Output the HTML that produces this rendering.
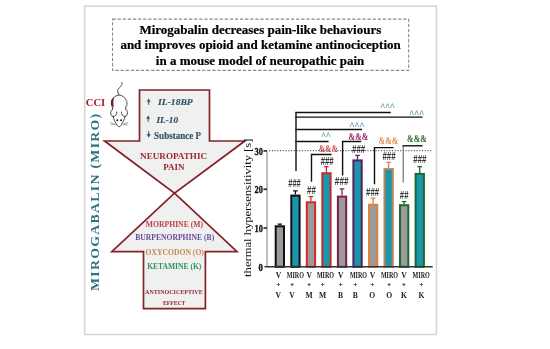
<!DOCTYPE html>
<html><head><meta charset="utf-8"><style>
html,body{margin:0;padding:0;background:#fff;width:550px;height:349px;overflow:hidden}
svg{display:block}
text{font-family:"Liberation Serif",serif}
</style></head><body>
<svg width="550" height="349" viewBox="0 0 550 349">
<!-- outer frame -->
<rect x="84.7" y="6.1" width="351.7" height="328.4" fill="none" stroke="#d6d6d6" stroke-width="1.6"/>
<!-- title box -->
<rect x="112.5" y="19.1" width="296.2" height="51.3" fill="none" stroke="#8a8a8a" stroke-width="1.1" stroke-dasharray="3.3 1.8"/>
<g font-weight="bold" font-size="13" fill="#000" stroke="#000" stroke-width="0.2" text-anchor="middle">
<text x="260.3" y="34.1">Mirogabalin decreases pain-like behaviours</text>
<text x="260.6" y="48.9">and improves opioid and ketamine antinociception</text>
<text x="260.1" y="64.8">in a mouse model of neuropathic pain</text>
</g>

<!-- vertical MIROGABALIN -->
<text transform="translate(99.2,291) rotate(-90)" font-size="12" font-weight="bold" fill="#2d7482" letter-spacing="1.1" textLength="178.5" lengthAdjust="spacingAndGlyphs">MIROGABALIN (MIRO)</text>

<!-- CCI -->
<text x="85.8" y="106.4" font-size="11" font-weight="bold" fill="#a41c28" textLength="19.4" lengthAdjust="spacingAndGlyphs">CCI</text>

<!-- mouse -->
<g fill="none" stroke="#2a2a2a" stroke-width="0.85" stroke-linecap="round" stroke-linejoin="round">
<path d="M121.9,82.4 C123.4,85.2 118.2,87.8 117.7,90.6 C117.4,92.6 118.8,93.6 119.1,94.8"/>
<path d="M112.6,109 C112,105.8 111.3,102.8 111.9,100.6 C112.9,97.4 116.4,95 119.1,95 C121.8,95 125.3,97.4 126.3,100.6 C126.9,102.8 126.2,105.8 125.6,109"/>
<path d="M112.6,109.2 C109.9,110 110.1,115.9 113,116.4 C115.4,116.8 117.1,114.5 116.7,112"/>
<path d="M125.6,109.2 C128.3,110 128.1,115.9 125.2,116.4 C122.8,116.8 121.1,114.5 121.5,112"/>
<path d="M113,116.4 C113.8,119.6 115.9,123.4 117.5,125.7 C118.4,127.2 119.9,127.2 120.8,125.7 C122.4,123.4 124.4,119.6 125.2,116.4"/>
<path d="M110.4,122.4 L115.6,124.3 M110.8,125 L115.4,124.6 M111.6,123.4 L114.8,124.8 M128.2,122.4 L123,124.3 M127.8,125 L123.2,124.6 M127,123.4 L123.8,124.8" stroke="#9a9a9a" stroke-width="0.7"/>
<path d="M126.4,100 C127.6,102.5 127.4,105 126.4,107" stroke="#b0b0b0" stroke-width="1.4"/>
</g>
<circle cx="117.4" cy="120.3" r="0.95" fill="#111"/>
<circle cx="121.1" cy="120.3" r="0.95" fill="#111"/>
<path d="M113.2,98.4 C110.8,100.5 110.6,104.4 113,106.4 C112.6,103.6 112.8,100.6 113.2,98.4 Z" fill="#7a1a22" stroke="#7a1a22" stroke-width="1.1"/>
<!-- down arrow -->
<path d="M139.5,90 L209.5,90 L209.5,141 L244.8,141 L174.5,193.1 L104.6,141 L139.5,141 Z" fill="#f0f0f0" stroke="#832228" stroke-width="1.7" stroke-linejoin="miter"/>
<!-- up arrow -->
<path d="M174.5,193.1 L237,251.6 L205.4,251.6 L205.4,308.6 L143.5,308.6 L143.5,251.6 L111.8,251.6 Z" fill="#f0f0f0" stroke="#832228" stroke-width="1.7" stroke-linejoin="miter"/>

<!-- arrow texts -->
<g fill="#2e5262" stroke="#2e5262" stroke-width="0.15">
<path d="M148.7,98.6 L146.9,101.8 L150.5,101.8 Z M148.3,101.5 h0.8 v3.2 h-0.8 Z"/>
<path d="M148.2,115.6 L146.4,118.8 L150,118.8 Z M147.8,118.5 h0.8 v3.2 h-0.8 Z"/>
<path d="M148.7,137.6 L146.8,134.2 L150.6,134.2 Z M148.3,131.2 h0.8 v3.4 h-0.8 Z"/>
<text x="158.1" y="105" font-size="9" font-weight="bold" font-style="italic" textLength="34.6" lengthAdjust="spacingAndGlyphs">IL-18BP</text>
<text x="156.5" y="122.5" font-size="9" font-weight="bold" font-style="italic" textLength="21.6" lengthAdjust="spacingAndGlyphs">IL-10</text>
<text x="154.1" y="138.5" font-size="9.5" font-weight="bold" textLength="47" lengthAdjust="spacingAndGlyphs">Substance P</text>
</g>
<g font-weight="bold" fill="#962a32">
<text x="140.1" y="159.1" font-size="9.1" textLength="66.9" lengthAdjust="spacingAndGlyphs">NEUROPATHIC</text>
<text x="163.2" y="169.9" font-size="9.1" textLength="21.3" lengthAdjust="spacingAndGlyphs">PAIN</text>
</g>
<g font-weight="bold" font-size="7.6">
<text x="145.8" y="226.7" fill="#bb3e48" textLength="57.2" lengthAdjust="spacingAndGlyphs">MORPHINE (M)</text>
<text x="135.2" y="240.4" fill="#684c9e" textLength="79" lengthAdjust="spacingAndGlyphs">BURPENORPHINE (B)</text>
<text x="145.5" y="254.5" fill="#c8884a" textLength="58.4" lengthAdjust="spacingAndGlyphs">OXYCODON (O)</text>
<text x="147.2" y="268.6" fill="#2a9459" textLength="54.1" lengthAdjust="spacingAndGlyphs">KETAMINE (K)</text>
</g>
<g font-weight="bold" font-size="6.6" fill="#8c2836">
<text x="145.1" y="293.8" textLength="57.6" lengthAdjust="spacingAndGlyphs">ANTINOCICEPTIVE</text>
<text x="162.9" y="305.3" textLength="22.5" lengthAdjust="spacingAndGlyphs">EFFECT</text>
</g>

<!-- CHART -->
<!-- y label -->
<text transform="translate(251.4,276.9) rotate(-90)" font-size="10.4" fill="#111" textLength="138.3" lengthAdjust="spacingAndGlyphs">thermal hypersensitivity [s]</text>
<!-- y axis -->
<line x1="267" y1="150.9" x2="267" y2="266.8" stroke="#a8a8a8" stroke-width="1.5"/>
<g stroke="#222" stroke-width="1.6">
<line x1="263.5" y1="150.9" x2="267" y2="150.9"/>
<line x1="263.5" y1="189.3" x2="267" y2="189.3"/>
<line x1="263.5" y1="228" x2="267" y2="228"/>
</g>
<g font-size="11" font-weight="bold" fill="#111" stroke="#111" stroke-width="0.35" text-anchor="end">
<text x="263" y="154.6" textLength="8.4" lengthAdjust="spacingAndGlyphs">30</text>
<text x="263" y="193.2" textLength="8.4" lengthAdjust="spacingAndGlyphs">20</text>
<text x="263" y="232" textLength="8.4" lengthAdjust="spacingAndGlyphs">10</text>
<text x="263" y="271" textLength="4.4" lengthAdjust="spacingAndGlyphs">0</text>
</g>
<!-- dotted 30 line -->
<line x1="269.1" y1="150.6" x2="431.5" y2="150.6" stroke="#555" stroke-width="1.1" stroke-dasharray="1.1 1.63"/>

<!-- bars -->
<g stroke-width="2">
<rect x="275.7" y="226.3" width="8.3" height="40.5" fill="#9b9b9b" stroke="#111"/>
<rect x="291.3" y="195.6" width="8.3" height="71.2" fill="#1b97ad" stroke="#111"/>
<rect x="306.8" y="202.3" width="8.3" height="64.5" fill="#9b9b9b" stroke="#d42a2a"/>
<rect x="322.3" y="173.2" width="8.3" height="93.6" fill="#1b97ad" stroke="#c42a2a"/>
<rect x="337.9" y="196.6" width="8.3" height="70.2" fill="#9b9b9b" stroke="#7a2050"/>
<rect x="353.4" y="160.4" width="8.3" height="106.4" fill="#1b97ad" stroke="#55205e"/>
<rect x="369" y="204.7" width="8.3" height="62.1" fill="#9b9b9b" stroke="#e0803c"/>
<rect x="384.5" y="169.1" width="8.3" height="97.7" fill="#1b97ad" stroke="#bc8650"/>
<rect x="400" y="205.2" width="8.3" height="61.6" fill="#9b9b9b" stroke="#1a6a2e"/>
<rect x="415.6" y="173.9" width="8.3" height="92.9" fill="#1b97ad" stroke="#1a6a2e"/>
</g>
<!-- error bars -->
<g stroke-width="1.3" fill="none">
<path d="M279.8,225.3 V224.2 M277.6,224.2 H282" stroke="#111"/>
<path d="M295.4,194.6 V190.9 M293.1,190.9 H297.7" stroke="#111"/>
<path d="M310.9,201.3 V196.7 M308.6,196.7 H313.2" stroke="#d42a2a"/>
<path d="M326.4,172.2 V166.7 M324.2,166.7 H328.7" stroke="#c42a2a"/>
<path d="M342,195.6 V188.9 M339.7,188.9 H344.3" stroke="#7a2050"/>
<path d="M357.5,159.4 V155.3 M355.3,155.3 H359.8" stroke="#55205e"/>
<path d="M373.1,203.7 V198.2 M370.8,198.2 H375.4" stroke="#e0803c"/>
<path d="M388.6,168.1 V162.4 M386.3,162.4 H390.9" stroke="#c88a50"/>
<path d="M404.1,204.2 V201.7 M401.9,201.7 H406.4" stroke="#1a6a2e"/>
<path d="M419.7,172.9 V166.7 M417.4,166.7 H421.9" stroke="#1a6a2e"/>
</g>
<!-- x axis -->
<line x1="264.5" y1="266.8" x2="432.7" y2="266.8" stroke="#333" stroke-width="1.6"/>

<!-- brackets -->
<g stroke="#111" stroke-width="1.4" fill="none">
<path d="M296,112.5 V170.9"/>
<path d="M295.3,112.5 H390.8 M295.3,117.1 H422.5 M295.3,129.5 H362 M295.3,141.5 H328.6"/>
<path d="M311.5,181.8 V154.5 H331.6"/>
<path d="M342.6,175.5 V141.5 H361.3"/>
<path d="M374.5,184.3 V147.6 H393.5"/>
<path d="M403.2,182.6 V145.8" stroke="#666" stroke-width="1.1"/><path d="M402.6,145.8 H422.6"/>
</g>

<!-- significance -->
<g font-size="10.6" font-weight="bold" fill="#333" text-anchor="middle" style="font-family:'Liberation Sans',sans-serif">
<text style="font-family:'Liberation Sans',sans-serif" x="294.5" y="186.9" textLength="12.5" lengthAdjust="spacingAndGlyphs">###</text>
<text style="font-family:'Liberation Sans',sans-serif" x="311.4" y="194" textLength="8.7" lengthAdjust="spacingAndGlyphs">##</text>
<text style="font-family:'Liberation Sans',sans-serif" x="327.2" y="165" textLength="13" lengthAdjust="spacingAndGlyphs">###</text>
<text style="font-family:'Liberation Sans',sans-serif" x="341.7" y="185.1" textLength="13.7" lengthAdjust="spacingAndGlyphs">###</text>
<text style="font-family:'Liberation Sans',sans-serif" x="358.6" y="152.7" textLength="13.1" lengthAdjust="spacingAndGlyphs">###</text>
<text style="font-family:'Liberation Sans',sans-serif" x="372.6" y="196" textLength="13.1" lengthAdjust="spacingAndGlyphs">###</text>
<text style="font-family:'Liberation Sans',sans-serif" x="389" y="159.8" textLength="13.1" lengthAdjust="spacingAndGlyphs">###</text>
<text style="font-family:'Liberation Sans',sans-serif" x="404.2" y="198.7" textLength="8.7" lengthAdjust="spacingAndGlyphs">##</text>
<text style="font-family:'Liberation Sans',sans-serif" x="419.9" y="163.1" textLength="13.2" lengthAdjust="spacingAndGlyphs">###</text>
</g>
<g font-family="Liberation Mono" font-size="11" fill="#56a0ac" text-anchor="middle">
<text x="326.3" y="140.9" font-size="12.5" letter-spacing="0.8" textLength="9.6" lengthAdjust="spacingAndGlyphs" style="font-family:'Liberation Sans',sans-serif">^^</text>
<text x="357.2" y="131.3" font-size="12.5" letter-spacing="0.8" textLength="14.8" lengthAdjust="spacingAndGlyphs" style="font-family:'Liberation Sans',sans-serif">^^^</text>
<text x="387.9" y="112.4" font-size="12.5" letter-spacing="0.8" textLength="14.8" lengthAdjust="spacingAndGlyphs" style="font-family:'Liberation Sans',sans-serif">^^^</text>
<text x="417" y="119.2" font-size="12.5" letter-spacing="0.8" textLength="14.8" lengthAdjust="spacingAndGlyphs" style="font-family:'Liberation Sans',sans-serif">^^^</text>
</g>
<g font-size="10.4" font-weight="bold" text-anchor="middle">
<text x="328.3" y="151.9" fill="#d04a52" textLength="19.2" lengthAdjust="spacingAndGlyphs">&amp;&amp;&amp;</text>
<text x="358.4" y="139.6" fill="#902a60" textLength="19.6" lengthAdjust="spacingAndGlyphs">&amp;&amp;&amp;</text>
<text x="388.4" y="143.9" fill="#e08e50" textLength="19.6" lengthAdjust="spacingAndGlyphs">&amp;&amp;&amp;</text>
<text x="416.9" y="141.5" fill="#2a6a30" textLength="19.6" lengthAdjust="spacingAndGlyphs">&amp;&amp;&amp;</text>
</g>

<!-- x labels -->
<g font-size="7.6" font-weight="bold" fill="#222" text-anchor="middle">
<text x="278.6" y="277.8">V</text><text x="295.3" y="277.8" textLength="17.2" lengthAdjust="spacingAndGlyphs">MIRO</text><text x="309.3" y="277.8">V</text><text x="325.5" y="277.8" textLength="17.2" lengthAdjust="spacingAndGlyphs">MIRO</text><text x="340.8" y="277.8">V</text><text x="358.5" y="277.8" textLength="17.2" lengthAdjust="spacingAndGlyphs">MIRO</text><text x="372.5" y="277.8">V</text><text x="389.5" y="277.8" textLength="17.2" lengthAdjust="spacingAndGlyphs">MIRO</text><text x="403.9" y="277.8">V</text><text x="421.2" y="277.8" textLength="17.2" lengthAdjust="spacingAndGlyphs">MIRO</text>
</g>
<g font-size="6.6" font-weight="bold" fill="#444" stroke="#444" stroke-width="0.3" text-anchor="middle">
<text x="278.3" y="287.3">+</text><text x="292.1" y="287.3">+</text><text x="309.2" y="287.3">+</text><text x="322.6" y="287.3">+</text><text x="340.6" y="287.3">+</text><text x="355.3" y="287.3">+</text><text x="372.3" y="287.3">+</text><text x="389.2" y="287.3">+</text><text x="403.9" y="287.3">+</text><text x="421.4" y="287.3">+</text>
</g>
<g font-size="7.6" font-weight="bold" fill="#222" text-anchor="middle">
<text x="278.3" y="297.5">V</text><text x="292.1" y="297.5">V</text><text x="309.2" y="297.5">M</text><text x="322.6" y="297.5">M</text><text x="340.6" y="297.5">B</text><text x="355.3" y="297.5">B</text><text x="372.3" y="297.5">O</text><text x="389.2" y="297.5">O</text><text x="403.9" y="297.5">K</text><text x="421.4" y="297.5">K</text>
</g>
</svg>
</body></html>
